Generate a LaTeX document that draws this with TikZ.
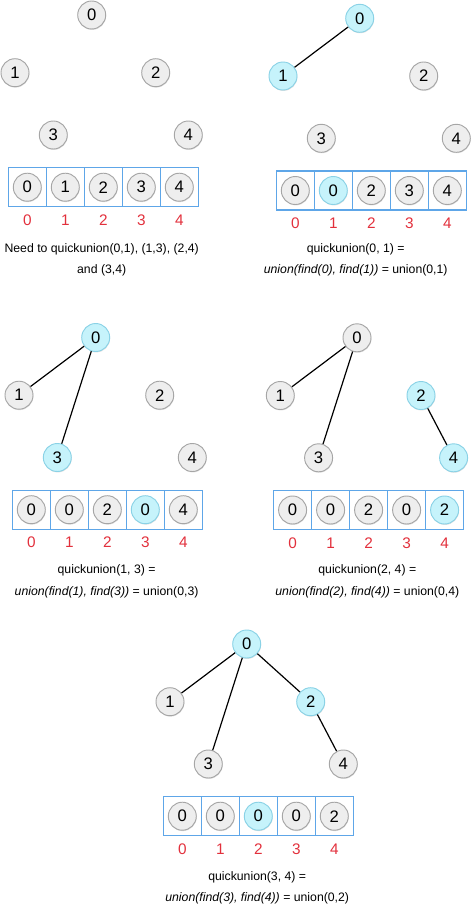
\documentclass[tikz,border=0pt]{standalone}
\usepackage{fontspec}
\setmainfont{Liberation Sans}
\usetikzlibrary{shadows}
\definecolor{nodegray}{HTML}{EEEEEE}
\definecolor{rimgray}{HTML}{A6A6A6}
\definecolor{nodecyan}{HTML}{C6F3FB}
\definecolor{rimcyan}{HTML}{8AD2E6}
\definecolor{cellblue}{HTML}{5EA6E8}
\definecolor{idxred}{HTML}{E2303C}
\begin{document}
\begin{tikzpicture}[x=0.75pt, y=-0.75pt,
  vtx/.style={circle, draw=rimgray, fill=nodegray, line width=0.7pt, minimum size=21pt, inner sep=0pt,
    font=\fontsize{12.5}{12.5}\selectfont, drop shadow={shadow xshift=0.3pt, shadow yshift=-0.7pt, opacity=0.25}},
  hot/.style={vtx, draw=rimcyan, fill=nodecyan},
  cell/.style={draw=cellblue, line width=0.8pt, minimum width=28.5pt, minimum height=29.25pt, inner sep=0pt},
  idx/.style={text=idxred, font=\fontsize{11.5}{11.5}\selectfont},
  note/.style={font=\fontsize{9.2}{11}\selectfont},
  link/.style={line width=0.9pt}]
\useasboundingbox (0,0) rectangle (474,906);

% panel 1: initial forest
\begin{scope}
\node[vtx] (p1n0) at (91.7,15) {0};
\node[vtx] (p1n1) at (15,72.7) {1};
\node[vtx] (p1n2) at (155.7,72.7) {2};
\node[vtx] (p1n3) at (53.3,135) {3};
\node[vtx] (p1n4) at (188.3,135) {4};
\foreach \v/\s [count=\i from 0] in {0/vtx,1/vtx,2/vtx,3/vtx,4/vtx} {
  \node[cell] (p1c\i) at (27.3+38*\i,187.2) {};
  \node[\s] (p1v\i) at (p1c\i) {\v};
  \node[idx] (p1x\i) at (27.3+38*\i,220) {\i};
}
\end{scope}
\node[note] (p1t1) at (101.7,249.3) {Need to quickunion(0,1), (1,3), (2,4)};
\node[note] (p1t2) at (101.7,270) {and (3,4)};

% panel 2: quickunion(0,1)
\begin{scope}[shift={(268,3.3)}]
\node[hot] (p2n0) at (91.7,15) {0};
\node[hot] (p2n1) at (15,72.7) {1};
\node[vtx] (p2n2) at (155.7,72.7) {2};
\node[vtx] (p2n3) at (53.3,135) {3};
\node[vtx] (p2n4) at (188.3,135) {4};
\draw[link] (p2n0) -- (p2n1);
\foreach \v/\s [count=\i from 0] in {0/vtx,0/hot,2/vtx,3/vtx,4/vtx} {
  \node[cell] (p2c\i) at (27.3+38*\i,187.2) {};
  \node[\s] (p2v\i) at (p2c\i) {\v};
  \node[idx] (p2x\i) at (27.3+38*\i,220) {\i};
}
\end{scope}
\node[note] (p2t1) at (355.7,249.3) {quickunion(0, 1) =};
\node[note] (p2t2) at (355.7,270) {\textit{union(find(0), find(1))} = union(0,1)};

% panel 3: quickunion(1,3)
\begin{scope}[shift={(4,322.5)}]
\node[hot] (p3n0) at (91.7,15) {0};
\node[vtx] (p3n1) at (15,72.7) {1};
\node[vtx] (p3n2) at (155.7,72.7) {2};
\node[hot] (p3n3) at (53.3,135) {3};
\node[vtx] (p3n4) at (188.3,135) {4};
\draw[link] (p3n0) -- (p3n1);
\draw[link] (p3n0) -- (p3n3);
\foreach \v/\s [count=\i from 0] in {0/vtx,0/vtx,2/vtx,0/hot,4/vtx} {
  \node[cell] (p3c\i) at (27.3+38*\i,187.2) {};
  \node[\s] (p3v\i) at (p3c\i) {\v};
  \node[idx] (p3x\i) at (27.3+38*\i,220) {\i};
}
\end{scope}
\node[note] (p3t1) at (106.6,570.7) {quickunion(1, 3) =};
\node[note] (p3t2) at (106.6,592.7) {\textit{union(find(1), find(3))} = union(0,3)};

% panel 4: quickunion(2,4)
\begin{scope}[shift={(265.3,322.8)}]
\node[vtx] (p4n0) at (91.7,15) {0};
\node[vtx] (p4n1) at (15,72.7) {1};
\node[hot] (p4n2) at (155.7,72.7) {2};
\node[vtx] (p4n3) at (53.3,135) {3};
\node[hot] (p4n4) at (188.3,135) {4};
\draw[link] (p4n0) -- (p4n1);
\draw[link] (p4n0) -- (p4n3);
\draw[link] (p4n2) -- (p4n4);
\foreach \v/\s [count=\i from 0] in {0/vtx,0/vtx,2/vtx,0/vtx,2/hot} {
  \node[cell] (p4c\i) at (27.3+38*\i,187.2) {};
  \node[\s] (p4v\i) at (p4c\i) {\v};
  \node[idx] (p4x\i) at (27.3+38*\i,220) {\i};
}
\end{scope}
\node[note] (p4t1) at (367.3,570.7) {quickunion(2, 4) =};
\node[note] (p4t2) at (367.3,592.7) {\textit{union(find(2), find(4))} = union(0,4)};

% panel 5: quickunion(3,4)
\begin{scope}[shift={(155,629)}]
\node[hot] (p5n0) at (91.7,15) {0};
\node[vtx] (p5n1) at (15,72.7) {1};
\node[hot] (p5n2) at (155.7,72.7) {2};
\node[vtx] (p5n3) at (53.3,135) {3};
\node[vtx] (p5n4) at (188.3,135) {4};
\draw[link] (p5n0) -- (p5n1);
\draw[link] (p5n0) -- (p5n3);
\draw[link] (p5n0) -- (p5n2);
\draw[link] (p5n2) -- (p5n4);
\foreach \v/\s [count=\i from 0] in {0/vtx,0/vtx,0/hot,0/vtx,2/vtx} {
  \node[cell] (p5c\i) at (27.3+38*\i,187.2) {};
  \node[\s] (p5v\i) at (p5c\i) {\v};
  \node[idx] (p5x\i) at (27.3+38*\i,220) {\i};
}
\end{scope}
\node[note] (p5t1) at (257.2,877.3) {quickunion(3, 4) =};
\node[note] (p5t2) at (257.2,898.3) {\textit{union(find(3), find(4))} = union(0,2)};
\end{tikzpicture}
\end{document}
